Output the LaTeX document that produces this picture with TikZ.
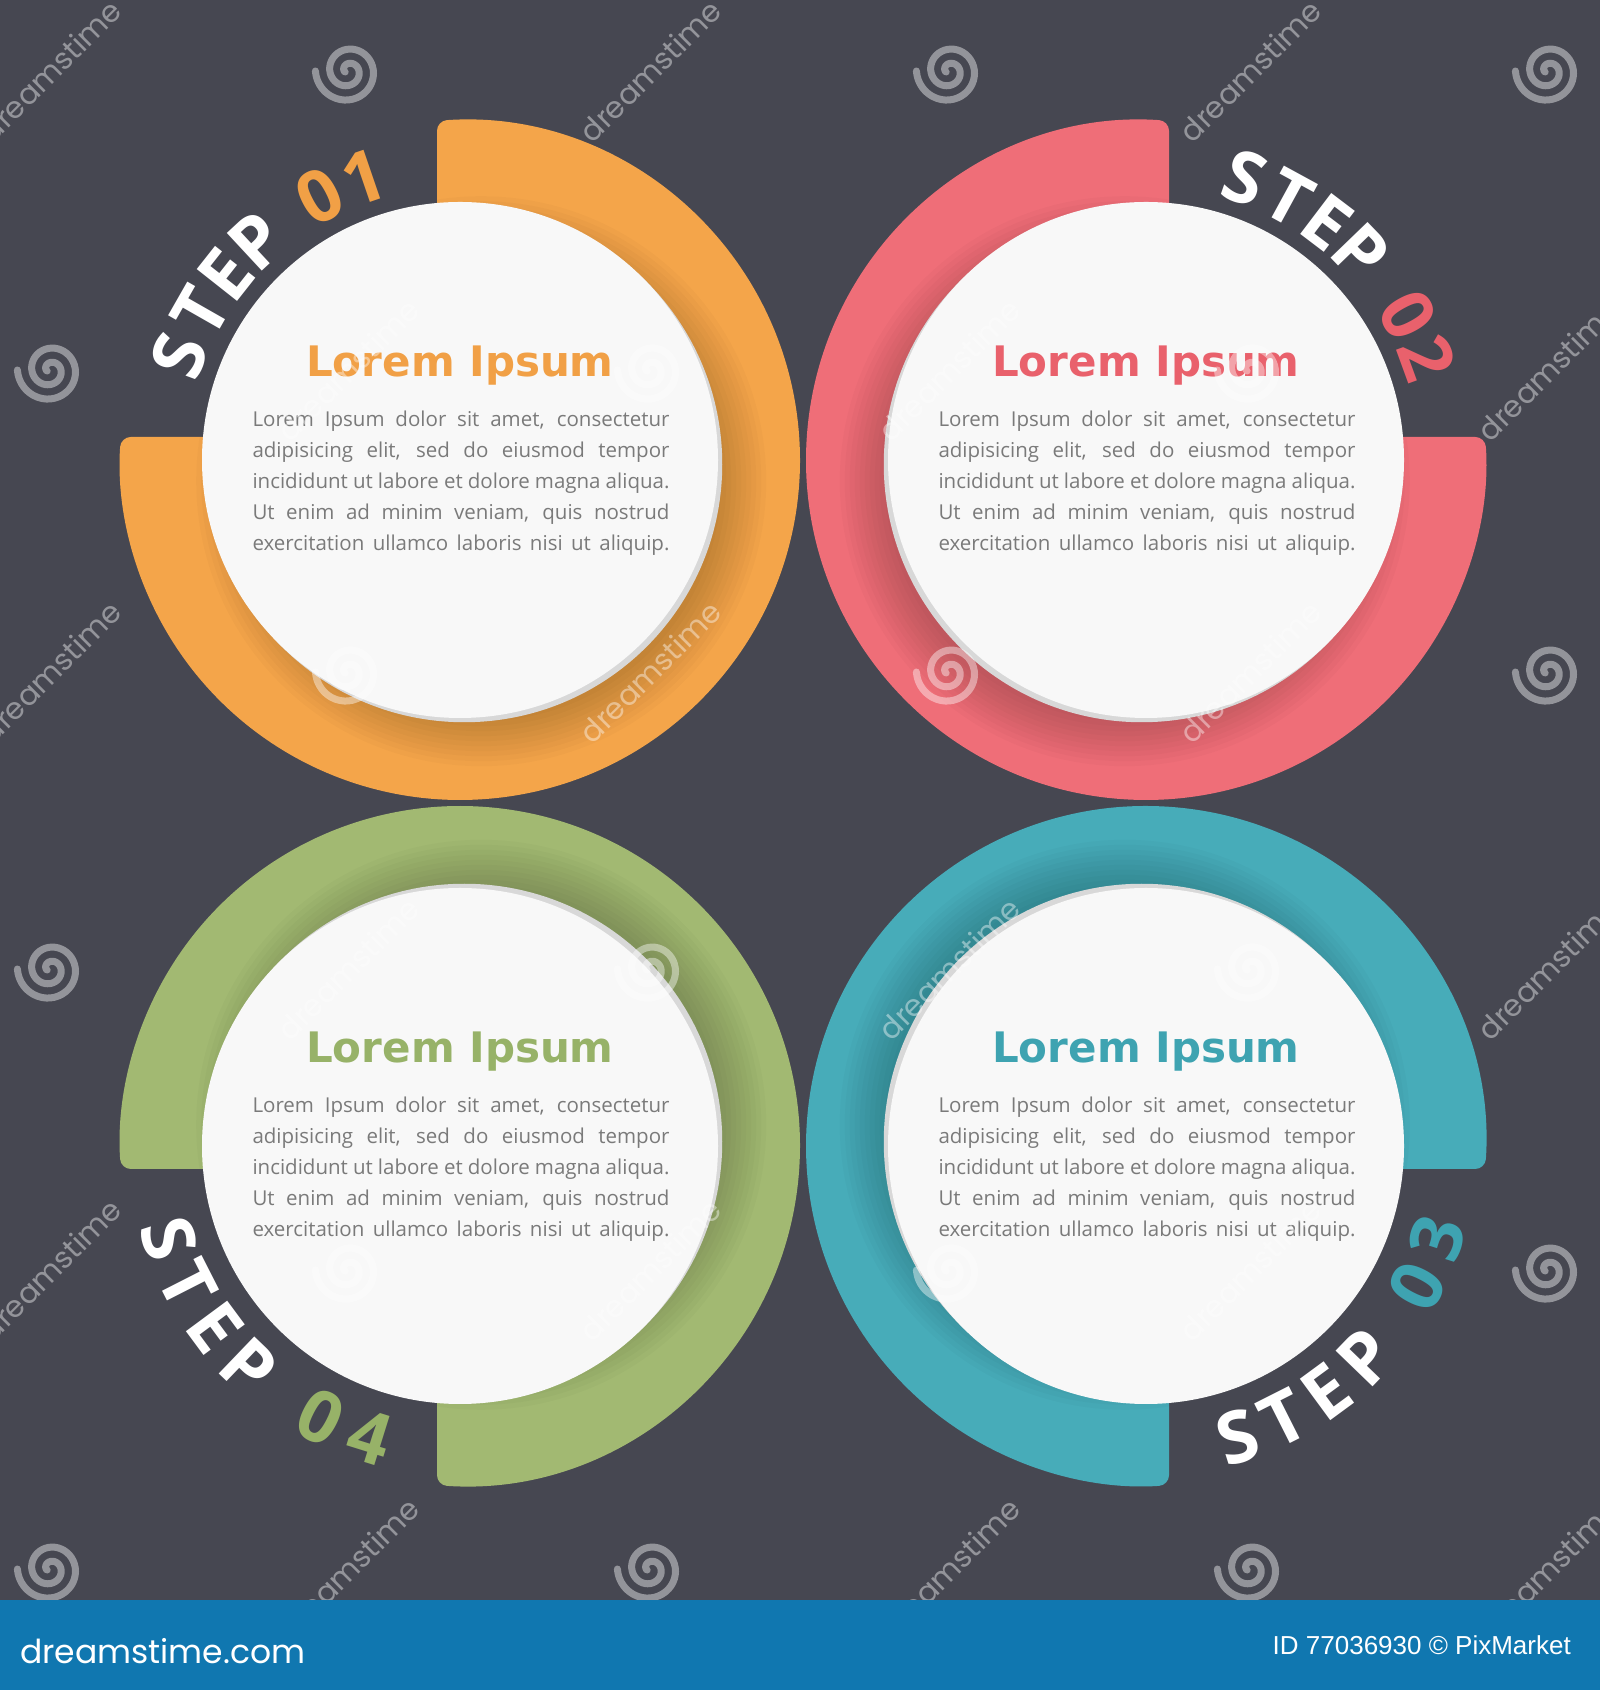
\documentclass[tikz,border=0pt]{standalone}
\usepackage{fontspec}
\setmainfont{Open Sans}
\newfontfamily\bodyfont{Open Sans}
\newfontfamily\titlefont{DejaVu Sans}
\newfontfamily\stepfamily{Open Sans}
\newfontfamily\logofont{Poppins}
\newfontfamily\idfont{Liberation Sans}
\usetikzlibrary{calc}

\definecolor{bgdark}{RGB}{70,71,81}
\definecolor{ringA}{RGB}{244,165,74}
\definecolor{ringB}{RGB}{239,110,120}
\definecolor{ringC}{RGB}{71,172,185}
\definecolor{ringD}{RGB}{162,185,114}
\definecolor{titleA}{RGB}{241,160,70}
\definecolor{titleB}{RGB}{233,97,108}
\definecolor{titleC}{RGB}{62,163,177}
\definecolor{titleD}{RGB}{151,178,104}
\definecolor{platecol}{RGB}{248,248,248}
\definecolor{rimcol}{RGB}{216,216,216}
\definecolor{bodycol}{RGB}{122,122,122}
\definecolor{barcol}{RGB}{16,119,176}

\tikzset{
  titletext/.style={inner sep=0pt, anchor=base, font=\titlefont\bfseries\fontsize{42}{42}\selectfont},
  bodyline/.style={inner sep=0pt, anchor=base, text=bodycol, font=\bodyfont\fontsize{20.5}{31}\selectfont},
  stepch/.style={inner sep=0pt, anchor=center, font=\stepfamily\bfseries\fontsize{72}{72}\selectfont},
  platenode/.style={circle, inner sep=0pt, minimum size=516pt, fill=platecol},
  rimnode/.style={circle, inner sep=0pt, minimum size=516pt, fill=rimcol},
  shadowlayer/.style={fill=black, opacity=0.018},
  wmspiral/.style={draw=white, opacity=0.42, line width=7pt, line cap=round},
  wmtext/.style={text=white, opacity=0.42, font=\logofont\fontsize{30}{30}\selectfont, rotate=45, inner sep=0pt},
}

% #1 prefix, #2 centre, #3 ring colour, #4 start angle, #5 end angle, #6 inner corner, #7 shadow direction, #8 title colour
\newcommand\stepblock[8]{%
\begin{scope}[shift={(#2)}]
  \coordinate (#1c) at (0,0);
  \fill[#3, rounded corners=10pt] (#6) -- (#4:340) arc[start angle=#4, end angle=#5, radius=340] -- cycle;
  \begin{scope}
    \clip (#6) -- (#4:340) arc[start angle=#4, end angle=#5, radius=340] -- cycle;
    \foreach \k in {0,...,9} \fill[shadowlayer] (#7:30) circle[radius=240+5*\k];
  \end{scope}
  \node[rimnode] (#1rim) at (#7:6) {};
  \node[platenode] (#1plate) at (0,0) {};
  \node[titletext, text=#8] (#1title) at (0,83) {Lorem Ipsum};
  \node[bodyline] (#1l1) at (1,33) {\makebox[417pt][s]{Lorem Ipsum dolor sit amet, consectetur}};
  \node[bodyline] (#1l2) at (1,2.1) {\makebox[417pt][s]{adipisicing elit, sed do eiusmod tempor}};
  \node[bodyline] (#1l3) at (1,-28.8) {\makebox[417pt][s]{incididunt ut labore et dolore magna aliqua.}};
  \node[bodyline] (#1l4) at (1,-59.7) {\makebox[417pt][s]{Ut enim ad minim veniam, quis nostrud}};
  \node[bodyline] (#1l5) at (1,-90.6) {\makebox[417pt][s]{exercitation ullamco laboris nisi ut aliquip.}};
\end{scope}}

% curved label above the centre (reads clockwise, tops outward)
\newcommand\topstep[5]{%
\begin{scope}[shift={(#2)}]
  \foreach \ch/\o [count=\i] in {S/-25.4,T/-16,E/-7.4,P/1.4}
    \node[stepch, text=white, rotate=#3-(\o)-90] (#1s\i) at ({#3-(\o)}:299) {\ch};
  \node[stepch, text=#4, rotate=#3-16.4-90] (#1s5) at ({#3-16.4}:299) {0};
  \node[stepch, text=#4, rotate=#3-25.4-90] (#1s6) at ({#3-25.4}:299) {#5};
\end{scope}}

% curved label below the centre (reads counter-clockwise, tops inward)
\newcommand\botstep[5]{%
\begin{scope}[shift={(#2)}]
  \foreach \ch/\o [count=\i] in {S/-27.5,T/-18.2,E/-8.7,P/1}
    \node[stepch, text=white, rotate=#3+(\o)+90] (#1s\i) at ({#3+(\o)}:305) {\ch};
  \node[stepch, text=#4, rotate=#3+17.6+90] (#1s5) at ({#3+17.6}:305) {0};
  \node[stepch, text=#4, rotate=#3+27.5+90] (#1s6) at ({#3+27.5}:305) {#5};
\end{scope}}

\begin{document}
\begin{tikzpicture}[x=1pt, y=1pt]
\useasboundingbox (0,0) rectangle (1600,1690);
\fill[bgdark] (0,0) rectangle (1600,1690);

\stepblock{a}{460,1230}{ringA}{93.88}{-183.88}{-23,23}{-45}{titleA}
\stepblock{b}{1146,1230}{ringB}{86.12}{363.88}{23,23}{225}{titleB}
\stepblock{c}{1146,544}{ringC}{-3.88}{273.88}{23,-23}{135}{titleC}
\stepblock{d}{460,544}{ringD}{266.12}{543.88}{-23,-23}{45}{titleD}

\topstep{a}{460,1230}{134.3}{titleA}{1}
\topstep{b}{1146,1230}{45.4}{titleB}{2}
\botstep{c}{1146,544}{315}{titleC}{3}
\botstep{d}{460,544}{225.2}{titleD}{4}

% watermark spirals
\foreach \px/\py [count=\j] in {348/1619,949/1619,1548/1619,50/1320,650/1320,1250/1320,
  348/1018,949/1018,1548/1018,50/721,650/721,1250/721,348/420,949/420,1548/420,50/121,650/121,1250/121}
  \draw[wmspiral, shift={(\px,\py)}] plot[domain=0:740, samples=90, smooth, variable=\t] ({200-\t}:{3+\t*0.04});
% watermark words
\foreach \px/\py [count=\j] in {50/1619,650/1619,1250/1619,348/1320,949/1320,1548/1320,
  50/1018,650/1018,1250/1018,348/721,949/721,1548/721,50/420,650/420,1250/420,348/121,949/121,1548/121}
  \node[wmtext] (wm\j) at (\px,\py) {dreamstime};

% bottom bar
\fill[barcol] (0,0) rectangle (1600,90);
\node[anchor=base west, inner sep=0pt, text=white, font=\logofont\fontsize{33}{33}\selectfont] (logo) at (20,27) {dreamstime.com};
\node[anchor=base east, inner sep=0pt, text=white, font=\idfont\fontsize{26}{26}\selectfont] (idtext) at (1571,35) {ID 77036930 \textcopyright{} PixMarket};
\end{tikzpicture}
\end{document}
